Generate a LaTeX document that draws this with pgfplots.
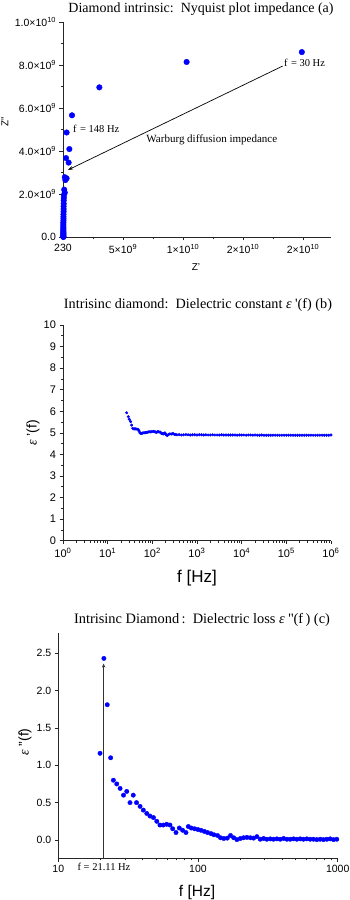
\documentclass[border=0pt]{standalone}
\usepackage{fontspec}
\setmainfont{Liberation Sans}
\newfontfamily\tnr{Liberation Serif}
\usepackage{pgfplots}
\pgfplotsset{compat=1.18}
\usetikzlibrary{arrows.meta}
\definecolor{ptblue}{RGB}{0,0,255}
\pgfplotsset{
  common/.style={
    scale only axis, axis lines*=left, tick align=outside,
    axis line style={line width=0.8pt, black!85},
    major tick length=3.5pt, minor tick length=2pt,
    every tick/.style={black!85, line width=0.6pt},
    /pgf/number format/assume math mode=true,
    clip=false,
    ticklabel style={font=\fontsize{10.5}{11}\selectfont},
  }
}
\begin{document}
\begin{tikzpicture}[x=1pt,y=1pt]
\useasboundingbox (0,0) rectangle (350,900);
% ---------------- (a) ----------------
\begin{axis}[common, at={(63pt,663pt)}, anchor=south west,
  width=268pt, height=215pt,
  xmin=0, xmax=2.233e10, ymin=0, ymax=1e10,
  xtick={0,5e9,1e10,1.5e10,2e10},
  xticklabels={230, 5×10\textsuperscript{9}, 1×10\textsuperscript{10}, 2×10\textsuperscript{10}, 2×10\textsuperscript{10}},
  ytick={0,2e9,4e9,6e9,8e9,1e10},
  yticklabels={0.0, 2.0×10\textsuperscript{9}, 4.0×10\textsuperscript{9}, 6.0×10\textsuperscript{9}, 8.0×10\textsuperscript{9}, 1.0×10\textsuperscript{10}},
  minor x tick num=1, minor y tick num=1,
  scaled ticks=false,
]
\addplot[only marks, mark=*, mark size=2.8pt, color=ptblue] coordinates {
(1.99e10,8.6e9) (1.03e10,8.14e9) (3.03e9,6.96e9) (0.75e9,5.66e9) (0.3e9,4.86e9)
(0.53e9,4.09e9) (0.25e9,3.67e9) (0.47e9,3.46e9) (0.3e9,2.73e9) (0.2e9,2.65e9)
(0.15e9,2.78e9) (0.15e9,2.06e9) (0.1e9,2.2e9) (0.08e9,1.95e9) (0.07e9,1.82e9)
(0.06e9,1.7e9) (0.06e9,1.55e9) (0.05e9,1.42e9) (0.05e9,1.3e9) (0.05e9,1.18e9)
(0.04e9,1.06e9) (0.04e9,0.95e9) (0.04e9,0.85e9) (0.04e9,0.76e9) (0.03e9,0.68e9)
(0.03e9,0.6e9) (0.03e9,0.52e9) (0.03e9,0.45e9) (0.03e9,0.38e9) (0.03e9,0.32e9)
(0.03e9,0.26e9) (0.03e9,0.21e9) (0.03e9,0.16e9) (0.03e9,0.12e9) (0.03e9,0.08e9)
(0.03e9,0.05e9) (0.03e9,0.02e9) (0.03e9,0.0)
};
\draw[-{Stealth[length=5pt,width=3.5pt]}, line width=0.7pt, black] (axis cs:1.83e10,7.95e9) -- (axis cs:0.42e9,3.12e9);
\node[anchor=west, font=\tnr\fontsize{10.5}{11}\selectfont, inner sep=0pt] at (axis cs:1.84e10,8.09e9) {f\,\,= 30 Hz};
\node[anchor=west, font=\tnr\fontsize{10.5}{11}\selectfont, inner sep=0pt] at (axis cs:0.83e9,5.02e9) {f\,\,= 148 Hz};
\node[font=\tnr\fontsize{11}{12}\selectfont, inner sep=0pt] at (axis cs:12.4e9,4.51e9) {Warburg diffusion impedance};
\end{axis}
\node[font=\tnr\fontsize{14}{15}\selectfont] at (201,891) {Diamond intrinsic:\ \ Nyquist plot impedance (a)};
\node[rotate=90, font=\fontsize{10}{11}\selectfont] at (5,778) {Z''};
\node[font=\fontsize{10}{11}\selectfont] at (196,633) {Z'};
% ---------------- (b) ----------------
\begin{axis}[common, at={(63pt,359.3pt)}, anchor=south west,
  width=268pt, height=215.7pt,
  xmode=log, xmin=1, xmax=1e6, ymin=0, ymax=10,
  xtick={1,10,100,1000,10000,100000,1000000},
  xticklabels={10\textsuperscript{0},10\textsuperscript{1},10\textsuperscript{2},10\textsuperscript{3},10\textsuperscript{4},10\textsuperscript{5},10\textsuperscript{6}},
  ytick={0,1,...,10}, minor y tick num=1,
  ticklabel style={font=\fontsize{11}{12}\selectfont},
]
\addplot[only marks, mark=*, mark size=1.3pt, color=ptblue] coordinates {
(26.6,5.93) (28.9,5.75) (30.5,5.63) (32.6,5.52) (34.4,5.36) (36.3,5.21) (38.9,5.18)
(41,5.19) (43,5.18) (45.5,5.17) (48.3,5.16) (50.5,5.08) (52.7,5.0) (55,4.98)
(57.6,4.97) (60,4.99) (62.7,5.0) (66,5.0) (70,5.01) (74.5,5.02) (79,5.03)
(83.5,5.05) (88.5,5.05) (93,5.04) (98,5.06) (105,5.07) (111,5.05) (118,5.04)
(125,5.02) (131,5.06) (138,5.05) (148,5.04) (155,5.0) (161,4.98) (168,4.96)
(176,4.95) (183,4.97) (191,5.0) (199,4.94) (208,4.90) (218,4.88) (230,4.92)
(247,4.95) (265,4.94) (280,4.96) (294,4.96) (316,4.93) (335,4.92)
(355,4.91) (398,4.92) (447,4.90) (501,4.91) (562,4.92) (631,4.91) (708,4.90)
(794,4.91) (891,4.91) (1000,4.90) (1122,4.91) (1259,4.91) (1413,4.90) (1585,4.91)
(1778,4.90) (1995,4.90) (2239,4.91) (2512,4.90) (2818,4.90) (3162,4.90) (3548,4.91)
(3981,4.90) (4467,4.90) (5012,4.90) (5623,4.90) (6310,4.90) (7079,4.90) (7943,4.89)
(8913,4.90) (10000,4.90) (11220,4.90) (12590,4.89) (14130,4.90) (15850,4.90)
(17780,4.89) (19950,4.90) (22390,4.89) (25120,4.89) (28180,4.90) (31620,4.89)
(35480,4.89) (39810,4.89) (44670,4.89) (50120,4.89) (56230,4.89) (63100,4.89)
(70790,4.89) (79430,4.89) (89130,4.89) (100000,4.89) (112200,4.89) (125900,4.89)
(141300,4.89) (158500,4.89) (177800,4.89) (199500,4.89) (223900,4.89) (251200,4.89)
(281800,4.89) (316200,4.89) (354800,4.89) (398100,4.89) (446700,4.89) (501200,4.89)
(562300,4.89) (631000,4.89) (707900,4.89) (794300,4.89) (891300,4.89) (1000000,4.90)
};
\end{axis}
\node[font=\tnr\fontsize{14.2}{15}\selectfont] at (198,595) {Intrisinc diamond:\ \ Dielectric constant {\itshape ε} '(f) (b)};
\node[rotate=90, font=\fontsize{14}{15}\selectfont] at (33,467) {{\tnr\itshape ε} '(f)};
\node[font=\fontsize{17}{18}\selectfont] at (197,322) {f [Hz]};
% ---------------- (c) ----------------
\begin{axis}[common, at={(58.3pt,41.7pt)}, anchor=south west,
  width=279.4pt, height=225.3pt,
  xmode=log, xmin=10, xmax=1000, ymin=-0.245, ymax=2.77,
  xtick={10,100,1000}, xticklabels={10,100,1000},
  ytick={0,0.5,1,1.5,2,2.5}, yticklabels={0.0,0.5,1.0,1.5,2.0,2.5},
  ticklabel style={font=\fontsize{10.5}{11}\selectfont},
]
\draw[-{Stealth[length=4pt,width=3.5pt]}, line width=1pt, black!80] (axis cs:21.11,-0.245) -- (axis cs:21.11,2.36);
\addplot[only marks, mark=*, mark size=2.2pt, color=ptblue] coordinates {
(19.9,1.16) (21.2,2.43) (22.4,1.81) (23.7,1.10) (24.8,0.80) (26.2,0.75) (27.7,0.69)
(29.3,0.60) (30.9,0.65) (32.6,0.50) (34.4,0.60) (36.3,0.50) (38.5,0.45) (40.6,0.40)
(43,0.355) (45.3,0.32) (48,0.30) (50.7,0.25) (53.4,0.20) (56.5,0.20) (59.7,0.21)
(63,0.20) (65.9,0.15) (69.6,0.10) (73.5,0.16) (77.6,0.13) (82,0.10) (85.3,0.18)
(89.6,0.16) (94.6,0.15) (99.9,0.14) (105,0.13) (111,0.115) (117,0.10) (124,0.085)
(130,0.07) (138,0.06) (145,0.03) (153,0.02) (162,0.025) (171,0.06) (180,0.03)
(190,0.005) (201,0.02) (212,0.03) (224,0.035) (237,0.03) (250,0.025) (264,0.045)
(279,0.01) (295,0.02) (311,0.01) (329,0.015) (347,0.01) (367,0.015) (388,0.01)
(410,0.02) (433,0.01) (457,0.01) (483,0.015) (510,0.01) (539,0.015) (569,0.01)
(601,0.015) (635,0.01) (671,0.01) (709,0.005) (749,0.01) (791,0.005) (836,0.01)
(883,0.015) (933,0.005) (985,0.01)
};
\end{axis}
\node[font=\tnr\fontsize{14.4}{15}\selectfont] at (202,280) {Intrisinc Diamond\,:\ \ Dielectric loss {\itshape ε} ''(f\,) (c)};
\node[rotate=90, font=\fontsize{14}{15}\selectfont] at (25,158) {{\tnr\itshape ε} ''(f)};
\node[font=\fontsize{15.5}{16}\selectfont] at (197,8) {f [Hz]};
\node[font=\tnr\fontsize{10.5}{11}\selectfont] at (104,33) {f = 21.11 Hz};
\end{tikzpicture}
\end{document}
